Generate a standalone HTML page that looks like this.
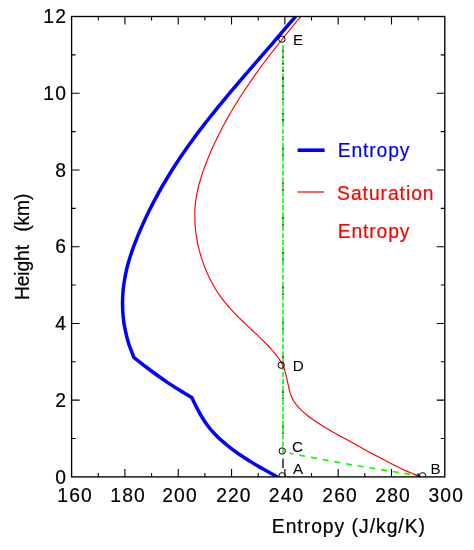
<!DOCTYPE html>
<html><head><meta charset="utf-8"><title>Entropy profile</title>
<style>
html,body{margin:0;padding:0;background:#fff;}
svg{display:block;font-family:"Liberation Sans",sans-serif;}
.ax text{font-size:19.3px;letter-spacing:1.1px;fill:#000;stroke:#000;stroke-width:0.2px;}
.pt text{font-size:15.2px;fill:#000;}
.lg text{font-size:19.3px;letter-spacing:0.85px;}
</style></head>
<body>
<svg width="474" height="550" viewBox="0 0 474 550">
<rect width="474" height="550" fill="#fff"/>
<defs><clipPath id="c"><rect x="71.6" y="16.5" width="373.20000000000005" height="460.4"/></clipPath></defs>
<g clip-path="url(#c)" fill="none">
<path d="M283 467.9V458.6" stroke="#000" stroke-width="1.3"/>
<path d="M283 453.4V44.6" stroke="#0f0" stroke-width="1.6" stroke-dasharray="4.9 2.05"/><path d="M283 433.9V432.6M283 427.7V425.6M283 399.2V397.8M283 392.9V390.9M283 364.5V363.1M283 358.2V356.1M283 329.8V328.3M283 323.4V321.4M283 295.1V293.6M283 288.7V286.6M283 260.4V258.8M283 253.9V251.9M283 225.7V224.1M283 219.2V217.1M283 191.0V189.3M283 184.4V182.4M283 156.3V154.6M283 149.7V147.6M283 121.6V119.8M283 114.9V112.9M283 86.9V85.1M283 80.2V78.1M283 52.2V50.3M283 58.2V56.4M283 64.8V63.0M283 71.8V70.0M283 78.9V77.1M283 93.6V91.8M283 100.2V98.4M283 120.9V119.1" stroke="#222" stroke-width="1.5"/>
<path d="M289.5 453.2Q350 465.2 420.5 475.8" stroke="#0f0" stroke-width="1.6" stroke-dasharray="6 5.85" stroke-dashoffset="1.7"/>
<path d="M299.6 11.5 C298.1 13.3 293.7 18.6 290.7 22.2 C287.7 25.7 284.7 29.2 281.6 32.7 C278.6 36.3 275.6 39.8 272.6 43.3 C269.5 46.8 266.5 50.3 263.4 53.8 C260.4 57.3 257.3 60.8 254.3 64.3 C251.3 67.8 248.2 71.3 245.2 74.8 C242.2 78.3 239.2 81.8 236.2 85.4 C233.2 88.9 230.2 92.4 227.2 96.0 C224.3 99.5 221.3 103.1 218.4 106.7 C215.5 110.3 212.6 113.9 209.7 117.5 C206.8 121.1 204.0 124.8 201.2 128.4 C198.4 132.1 195.6 135.8 192.9 139.5 C190.2 143.3 187.5 147.0 184.9 150.8 C182.2 154.6 179.6 158.4 177.1 162.3 C174.5 166.2 172.0 170.1 169.6 174.0 C167.2 178.0 164.8 182.0 162.4 186.0 C160.1 190.0 157.9 194.1 155.7 198.2 C153.5 202.3 151.3 206.5 149.3 210.6 C147.2 214.8 145.2 219.0 143.3 223.3 C141.3 227.5 139.5 231.8 137.7 236.1 C136.0 240.4 134.2 244.8 132.7 249.1 C131.2 253.5 129.7 257.9 128.5 262.3 C127.2 266.7 126.1 271.2 125.3 275.7 C124.4 280.2 123.7 284.7 123.2 289.3 C122.8 293.8 122.5 298.4 122.5 303.0 C122.5 307.5 122.7 312.1 123.2 316.7 C123.6 321.3 124.3 325.9 125.3 330.4 C126.2 335.0 127.4 339.5 128.8 344.0 C130.3 348.5 133.0 355.1 133.8 357.3 C135.6 358.8 141.2 363.2 144.9 366.1 C148.6 368.9 152.4 371.8 156.2 374.5 C160.0 377.3 163.9 380.0 167.8 382.6 C171.7 385.3 175.7 387.8 179.7 390.3 C183.7 392.8 189.8 396.4 191.8 397.6 C192.6 399.2 195.0 404.2 196.6 407.4 C198.3 410.6 200.0 413.9 201.9 417.0 C203.7 420.1 205.7 423.1 207.9 426.0 C210.1 428.9 212.5 431.6 215.0 434.2 C217.5 436.9 220.1 439.3 222.9 441.7 C225.6 444.1 228.5 446.4 231.4 448.6 C234.3 450.8 237.3 452.9 240.3 455.0 C243.4 457.1 246.4 459.0 249.5 460.9 C252.6 462.9 255.8 464.7 258.9 466.6 C262.1 468.4 265.3 470.2 268.5 472.0 C271.6 473.7 276.4 476.3 278.0 477.2" stroke="#0000ff" stroke-width="3.5" stroke-linejoin="round"/>
<path d="M305.0 11.5 C304.2 12.5 301.8 15.4 300.1 17.3 C298.5 19.3 296.9 21.2 295.3 23.2 C293.7 25.1 292.0 27.1 290.4 29.1 C288.8 31.0 287.2 33.0 285.6 35.0 C284.0 37.0 282.4 39.0 280.9 41.0 C279.3 42.9 277.7 44.9 276.1 46.9 C274.6 49.0 273.0 51.0 271.4 53.0 C269.9 55.0 268.3 57.0 266.8 59.1 C265.3 61.1 263.7 63.1 262.2 65.2 C260.7 67.2 259.2 69.3 257.7 71.3 C256.2 73.4 254.8 75.5 253.3 77.6 C251.8 79.6 250.4 81.7 249.0 83.8 C247.5 85.9 246.1 88.0 244.7 90.2 C243.3 92.3 241.9 94.4 240.5 96.5 C239.2 98.7 237.8 100.8 236.5 103.0 C235.2 105.1 233.8 107.3 232.5 109.5 C231.2 111.7 230.0 113.9 228.7 116.1 C227.4 118.3 226.2 120.5 225.0 122.7 C223.8 124.9 222.6 127.2 221.4 129.4 C220.2 131.7 219.1 134.0 218.0 136.2 C216.8 138.5 215.7 140.8 214.7 143.1 C213.6 145.4 212.5 147.7 211.5 150.0 C210.5 152.4 209.5 154.7 208.5 157.1 C207.5 159.4 206.6 161.8 205.7 164.2 C204.8 166.6 203.9 169.0 203.0 171.4 C202.2 173.8 201.4 176.2 200.7 178.7 C199.9 181.1 199.3 183.6 198.6 186.0 C198.0 188.5 197.5 190.9 197.0 193.4 C196.5 195.9 196.1 198.4 195.7 200.9 C195.4 203.4 195.2 205.9 195.0 208.4 C194.8 211.0 194.8 213.5 194.8 216.0 C194.8 218.6 194.9 221.1 195.0 223.6 C195.2 226.2 195.4 228.7 195.7 231.2 C196.0 233.8 196.4 236.3 196.8 238.8 C197.3 241.3 197.8 243.8 198.3 246.3 C198.9 248.8 199.5 251.3 200.2 253.7 C200.9 256.2 201.7 258.6 202.5 261.1 C203.3 263.5 204.2 265.9 205.1 268.2 C206.1 270.6 207.1 272.9 208.2 275.3 C209.2 277.6 210.4 279.8 211.6 282.1 C212.7 284.3 214.0 286.5 215.3 288.7 C216.6 290.9 218.0 293.0 219.5 295.1 C220.9 297.2 222.4 299.2 224.0 301.2 C225.6 303.2 227.2 305.1 228.9 307.0 C230.5 308.9 232.3 310.8 234.0 312.6 C235.8 314.5 237.6 316.3 239.4 318.1 C241.2 319.9 243.1 321.6 244.9 323.4 C246.8 325.2 248.6 326.9 250.5 328.7 C252.4 330.4 254.2 332.1 256.1 333.9 C257.9 335.7 259.8 337.4 261.6 339.2 C263.4 341.0 265.2 342.8 267.0 344.6 C268.7 346.4 270.5 348.3 272.1 350.2 C273.8 352.0 275.4 353.9 276.9 355.9 C278.4 357.9 279.9 360.0 281.1 362.1 C282.4 364.3 283.4 366.5 284.3 368.9 C285.1 371.3 285.7 373.8 286.3 376.3 C287.0 378.8 287.4 381.4 288.0 383.9 C288.5 386.4 289.0 389.0 289.7 391.4 C290.4 393.9 291.2 396.3 292.3 398.5 C293.4 400.7 294.7 402.8 296.2 404.7 C297.7 406.7 299.5 408.5 301.3 410.2 C303.1 412.0 305.1 413.6 307.1 415.2 C309.1 416.8 311.1 418.3 313.2 419.8 C315.3 421.2 317.4 422.7 319.6 424.0 C321.7 425.4 323.9 426.8 326.1 428.1 C328.3 429.4 330.5 430.7 332.7 431.9 C334.9 433.2 337.2 434.4 339.4 435.7 C341.7 436.9 343.9 438.1 346.2 439.3 C348.4 440.6 350.6 441.8 352.9 443.0 C355.1 444.2 357.3 445.5 359.6 446.7 C361.8 447.9 364.0 449.1 366.2 450.4 C368.5 451.6 370.7 452.8 372.9 454.0 C375.1 455.2 377.4 456.4 379.6 457.6 C381.8 458.8 384.1 460.0 386.3 461.1 C388.6 462.3 390.8 463.5 393.1 464.6 C395.4 465.7 397.6 466.8 399.9 467.9 C402.2 469.0 404.5 470.1 406.8 471.1 C409.2 472.1 411.5 473.2 413.9 474.1 C416.2 475.1 419.8 476.5 421.0 477.0" stroke="#ff0000" stroke-width="1.15"/>
<g stroke="#000" stroke-width="1">
<circle cx="282.2" cy="475.8" r="3.2"/><circle cx="422.6" cy="475.8" r="3.2"/>
<circle cx="282.2" cy="451" r="3.2"/><circle cx="281.2" cy="365.2" r="3.2"/><circle cx="281.9" cy="39.2" r="3.2"/>
</g>
</g>
<path d="M98.26 476.90V472.90M98.26 16.50V20.50M124.91 476.90V468.90M124.91 16.50V24.50M151.57 476.90V472.90M151.57 16.50V20.50M178.23 476.90V468.90M178.23 16.50V24.50M204.89 476.90V472.90M204.89 16.50V20.50M231.54 476.90V468.90M231.54 16.50V24.50M258.20 476.90V472.90M258.20 16.50V20.50M284.86 476.90V468.90M284.86 16.50V24.50M311.51 476.90V472.90M311.51 16.50V20.50M338.17 476.90V468.90M338.17 16.50V24.50M364.83 476.90V472.90M364.83 16.50V20.50M391.49 476.90V468.90M391.49 16.50V24.50M418.14 476.90V472.90M418.14 16.50V20.50M71.60 438.53H75.60M444.80 438.53H440.80M71.60 400.17H79.60M444.80 400.17H436.80M71.60 361.80H75.60M444.80 361.80H440.80M71.60 323.43H79.60M444.80 323.43H436.80M71.60 285.07H75.60M444.80 285.07H440.80M71.60 246.70H79.60M444.80 246.70H436.80M71.60 208.33H75.60M444.80 208.33H440.80M71.60 169.97H79.60M444.80 169.97H436.80M71.60 131.60H75.60M444.80 131.60H440.80M71.60 93.23H79.60M444.80 93.23H436.80M71.60 54.87H75.60M444.80 54.87H440.80" stroke="#000" stroke-width="1.1" fill="none"/>
<rect x="71.6" y="16.5" width="373.20000000000005" height="460.4" fill="none" stroke="#000" stroke-width="1.35"/>
<g class="ax"><text x="75.1" y="501.6" text-anchor="middle">160</text><text x="128.1" y="501.6" text-anchor="middle">180</text><text x="180.0" y="501.6" text-anchor="middle">200</text><text x="233.9" y="501.6" text-anchor="middle">220</text><text x="286.6" y="501.6" text-anchor="middle">240</text><text x="340.1" y="501.6" text-anchor="middle">260</text><text x="393.1" y="501.6" text-anchor="middle">280</text><text x="446.3" y="501.6" text-anchor="middle">300</text><text x="67.0" y="483.5" text-anchor="end">0</text><text x="67.0" y="406.8" text-anchor="end">2</text><text x="67.0" y="330.0" text-anchor="end">4</text><text x="67.0" y="253.3" text-anchor="end">6</text><text x="67.0" y="176.6" text-anchor="end">8</text><text x="67.0" y="99.8" text-anchor="end">10</text><text x="67.0" y="23.1" text-anchor="end">12</text>
<text x="348.9" y="532.9" text-anchor="middle" style="letter-spacing:1.0px">Entropy (J/kg/K)</text>
<text transform="translate(29.0 246.9) rotate(-90)" text-anchor="middle" style="letter-spacing:-0.12px;word-spacing:1.4px;white-space:pre">Height  (km)</text>
</g>
<g class="pt">
<text x="293.1" y="473.9">A</text><text x="430.5" y="474">B</text><text x="292" y="451.8">C</text><text x="292.8" y="370.6">D</text><text x="293" y="44.8">E</text>
</g>
<g class="lg">
<path d="M297.6 150.2H324.6" stroke="#0000ff" stroke-width="3.6"/>
<path d="M297.4 192H324" stroke="#ff0000" stroke-width="1.25"/>
<text x="337.8" y="157.3" fill="#0000ff" stroke="#0000ff" stroke-width="0.2">Entropy</text>
<text x="337.1" y="199.9" fill="#ff0000" stroke="#ff0000" stroke-width="0.2" style="letter-spacing:0.95px">Saturation</text>
<text x="337.8" y="237.7" fill="#ff0000" stroke="#ff0000" stroke-width="0.2">Entropy</text>
</g>
</svg>
</body></html>
